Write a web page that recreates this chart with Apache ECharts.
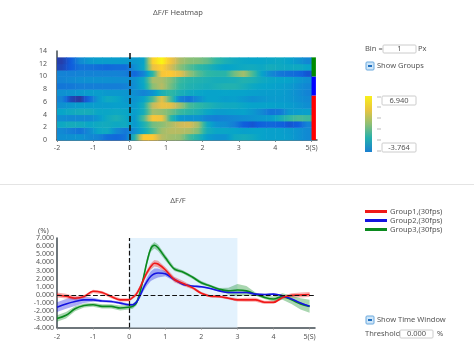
<!DOCTYPE html>
<html>
<head>
<meta charset="utf-8">
<style>html,body{margin:0;padding:0;background:#fff}#chart{width:474px;height:362px}</style>
<script src="https://cdn.jsdelivr.net/npm/echarts@6/dist/echarts.min.js"></script>
</head>
<body>
<div id="chart"></div>
<script>
// heatmap columns start times (s), each column is 0.25 wide, rows bottom to top
const heatColumns = [-2,-1.75,-1.5,-1.25,-1,-0.75,-0.5,-0.25,0,0.25,0.5,0.75,1,1.25,1.5,1.75,2,2.25,2.5,2.75,3,3.25,3.5,3.75,4,4.25,4.5,4.75];
const row0 = [-0.6,-0.5,-0.4,-0.8,-1,-1.8,-2,-1.6,1.2,5.6,5.6,3.8,3.4,3.2,2,1.2,0,-0.4,-0.4,0.6,0.8,0.6,0.2,0.1,0.1,0,-0.4,-0.8];
const row1 = [-0.8,-1.2,-1.6,-0.8,0.4,0.6,-0.8,-1.4,-0.6,0.6,2,3.4,3.8,3.8,3.6,2.8,0.8,0.4,0.4,0.3,0.1,0.2,0.2,0.1,0.1,-0.1,-0.4,-0.8];
const row2 = [0.5,0.8,0.7,0.4,0.6,0.7,0.5,0.6,-0.2,1,2.6,3,3.6,4.2,4.4,3.4,0.6,-0.4,-0.6,-1.2,-2.3,-2.6,-2.2,-2,-2.2,-2.6,-2.4,-1];
const row3 = [-0.6,-0.8,-0.8,-0.8,-0.2,0.6,1,0.5,-0.2,2,5.4,5.2,1.5,-0.2,-0.4,-0.4,-1,-1.2,-1,-0.8,-0.6,-0.4,-0.2,0,0.8,1.6,2,1.8];
const row4 = [0.3,0.6,0.8,0.8,0.4,0.4,0.5,0.4,0,0.8,3.4,3.2,2.6,1.8,1.4,1,0.4,0,0,0.1,0.2,-0.2,-0.8,-1.6,-1.4,-0.2,0,0.1];
const row5 = [-0.5,-0.2,0,0,0,0,0.1,0,-0.2,0.8,4,5,4.8,3.4,2,1.6,1.2,0.8,0.6,0.6,0.4,0.2,0.2,0.2,0.1,0,-0.3,-0.6];
const row6 = [-1,-3,-3.4,-2,-0.2,0.6,0.4,-0.2,-0.4,0.2,2,4.8,2,-1,-1.6,-0.6,0.2,0.2,0,0.1,-0.2,-0.5,-0.3,-0.1,-0.1,-0.2,-0.5,-0.8];
const row7 = [-0.5,-0.4,-0.2,0,0,-0.2,-0.2,-0.3,-0.6,-1,-0.4,1,1.6,1,0.6,0.4,0.2,0.2,0.3,0.2,0.2,0.1,0,0,0,-0.2,-0.6,-1];
const row8 = [-1.5,-1.4,-1.2,-1.2,-1.2,-1.2,-1.2,-1.1,-0.6,0.4,3,3.8,2.6,1.6,1.2,1,0.8,1,1.2,1.2,0.9,0.5,0.3,0.2,0.1,-0.1,-0.5,-0.9];
const row9 = [-1,-0.8,-0.6,-0.5,-0.5,-0.5,-0.6,-0.6,-0.5,0.5,3.5,3.6,2.8,1.8,1.4,1.2,1,0.8,0.8,0.9,1.2,1,0.6,0.4,0.3,0.2,-0.2,-0.6];
const row10 = [-1,-1.1,-1,-1,-1,-1,-1,-1.2,-2,-1,1.5,5.4,5.6,4.8,3.2,2.2,1.6,1.4,1.4,2.6,3.4,2,0.2,-0.8,-1.4,-1.7,-2,-2.6];
const row11 = [-3,-2.4,-1.6,-1.6,-1.8,-2,-1.8,-1.8,-0.6,0.4,5,5.8,4.4,3,2.2,1.6,1.2,0.6,0.2,0.4,0.6,0.7,0.5,0.8,0.6,0.5,0.6,0.3];
const row12 = [-3.2,-2.4,-0.8,-0.2,0,0,0,-0.1,-0.2,0.2,5.8,6.8,5.2,3.6,3,2.8,2.4,1.6,1,0.6,0.4,0.3,0.3,0.4,0.5,0.2,-0.3,-0.9];
const heatRows = [row0,row1,row2,row3,row4,row5,row6,row7,row8,row9,row10,row11,row12];
const heatMin = -3.764;
const heatMax = 6.94;
const parula = ['#352a87','#0f5cdd','#1481d6','#06a4ca','#2eb7a4','#87bf77','#d1bb59','#fec832','#f9fb0e'];
const groupBars = [[0,7,'#ff0000'],[7,10,'#0000ff'],[10,13,'#008a00']];

const times = [-2,-1.75,-1.5,-1.25,-1,-0.75,-0.5,-0.25,0,0.1,0.2,0.3,0.4,0.5,0.6,0.7,0.8,1,1.25,1.5,1.75,2,2.25,2.5,2.75,3,3.25,3.5,3.75,4,4.25,4.5,4.75,5];
const group1 = [0,-0.15,-0.4,-0.2,0.45,0.3,-0.2,-0.6,-0.6,-0.3,0.1,0.9,1.9,2.8,3.5,3.9,3.8,3.1,1.9,1.4,0.9,0.2,-0.15,-0.2,-0.4,-0.6,-0.6,-0.6,-0.9,-0.9,-0.3,-0.05,0,0.05];
const group2 = [-1.5,-1.1,-0.8,-0.6,-0.6,-0.75,-0.8,-1,-1.2,-1.2,-0.9,-0.1,0.9,1.7,2.3,2.6,2.7,2.6,1.9,1.3,1.1,1,0.8,0.5,0.3,0.3,0.3,0.1,0.05,0.1,-0.1,-0.5,-1,-1.4];
const group3 = [-2.9,-2.5,-1.7,-1.3,-1.2,-1.4,-1.4,-1.6,-1.5,-1.4,-1,0.3,2.2,4.2,5.7,6.1,5.8,4.6,3.2,2.8,2.2,1.5,1.1,0.7,0.5,0.6,0.5,0.1,-0.3,-0.5,-0.2,-0.6,-1.1,-1.4];
const err1 = [0.3,0.3,0.25,0.2,0.2,0.2,0.2,0.2,0.2,0.2,0.25,0.3,0.35,0.35,0.4,0.4,0.4,0.35,0.35,0.3,0.2,0.15,0.15,0.15,0.15,0.2,0.25,0.25,0.2,0.2,0.2,0.25,0.3,0.3];
const err2 = [0.6,0.6,0.55,0.4,0.25,0.15,0.15,0.15,0.15,0.15,0.2,0.3,0.4,0.5,0.6,0.65,0.55,0.3,0.2,0.15,0.1,0.1,0.1,0.1,0.1,0.1,0.1,0.1,0.1,0.1,0.1,0.1,0.1,0.1];
const err3 = [0.4,0.4,0.3,0.25,0.25,0.25,0.25,0.3,0.3,0.3,0.3,0.3,0.3,0.35,0.4,0.4,0.4,0.35,0.25,0.2,0.2,0.2,0.15,0.15,0.4,0.75,0.6,0.2,0.2,0.3,0.4,0.5,0.7,0.8];
const groupNames = ['Group1,(30fps)','Group2,(30fps)','Group3,(30fps)'];
const groupColors = ['#f01818','#1414e0','#0a8a1e'];
const xTicks = [-2,-1,0,1,2,3,4,5];
const timeWindow = [0,3];

const textColor = '#555';
const font = 'Noto Sans';

function heatColor(v) {
  return echarts.color.lerp((v - heatMin) / (heatMax - heatMin), parula);
}
// each cell fades into its neighbours, the reference has no hard column edges
function heatItem(params, api) {
  const k = api.value(3), r = heatRows[api.value(1)];
  const v = r[k];
  const prev = r[Math.max(k - 1, 0)], next = r[Math.min(k + 1, r.length - 1)];
  const a = api.coord([api.value(0), api.value(1)]);
  const b = api.coord([api.value(0) + 0.25, api.value(1) + 1]);
  return {
    type:'rect',
    shape:{x:a[0], y:b[1], width:b[0]-a[0]+0.5, height:a[1]-b[1]+0.5},
    style:{fill:new echarts.graphic.LinearGradient(0,0,1,0,[
      {offset:0, color:heatColor((prev+v)/2)},
      {offset:0.5, color:heatColor(v)},
      {offset:1, color:heatColor((v+next)/2)}
    ])}
  };
}
function barItem(params, api) {
  const a = api.coord([5, api.value(0)]);
  const b = api.coord([5.12, api.value(1)]);
  return {type:'rect', shape:{x:a[0], y:b[1], width:b[0]-a[0], height:a[1]-b[1]}, style:{fill:groupBars[params.dataIndex][2]}};
}
function bandSeries(mean, err, color) {
  return {
    type:'custom', xAxisIndex:1, yAxisIndex:1, z:3, silent:true, data:[[0]],
    renderItem(params, api) {
      const upper = times.map((t,i) => api.coord([t, mean[i]+err[i]]));
      const lower = times.map((t,i) => api.coord([t, mean[i]-err[i]])).reverse();
      return {type:'polygon', shape:{points:upper.concat(lower)}, style:{fill:color, opacity:0.35}};
    }
  };
}
function lineSeries(i, mean) {
  return {
    name:groupNames[i], type:'line', xAxisIndex:1, yAxisIndex:1, z:4, showSymbol:false, smooth:0.35,
    lineStyle:{color:groupColors[i], width:1.6}, itemStyle:{color:groupColors[i]},
    data:times.map((t,k) => [t, mean[k]])
  };
}
function box(x, y, w, h, txt) {
  return [
    {type:'rect', shape:{x:x, y:y, width:w, height:h, r:1}, style:{fill:'#fff', stroke:'#ccc', lineWidth:1}},
    {type:'text', x:x+w/2, y:y+h/2, style:{text:txt, fill:textColor, font:'7.5px "Noto Sans"', align:'center', verticalAlign:'middle'}}
  ];
}
function label(x, y, txt) {
  return {type:'text', x:x, y:y, style:{text:txt, fill:textColor, font:'7.5px "Noto Sans"', align:'left', verticalAlign:'middle'}};
}
function checkbox(x, y) {
  return [
    {type:'rect', shape:{x:x, y:y, width:8, height:8, r:1}, style:{fill:'#cfe6f8', stroke:'#6aa9de', lineWidth:1}},
    {type:'rect', shape:{x:x+2, y:y+3, width:4, height:2}, style:{fill:'#1f6fc0'}}
  ];
}

const heatData = [];
heatRows.forEach((r, y) => r.forEach((v, k) => heatData.push([heatColumns[k], y, v, k])));

const chart = echarts.init(document.getElementById('chart'));
const axisLine = {show:true, onZero:false, lineStyle:{color:'#3f4a50', width:1.5}};
const axisLabel = {color:textColor, fontSize:7, fontFamily:font};
function xAxis(gridIndex, margin) {
  return {
    type:'value', gridIndex, min:-2, max:5.15, axisLine, splitLine:{show:false},
    axisTick:{show:true, length:2, customValues:xTicks, lineStyle:{color:'#888'}},
    axisLabel:{...axisLabel, margin, customValues:xTicks, formatter:v => v === 5 ? '5(S)' : String(v)}
  };
}
chart.setOption({
  animation:false,
  textStyle:{fontFamily:font},
  title:[
    {text:'ΔF/F Heatmap', left:173, top:4, textAlign:'center', textStyle:{color:textColor, fontSize:7.5, fontWeight:'normal', fontFamily:font}},
    {text:'ΔF/F', left:173, top:192, textAlign:'center', textStyle:{color:textColor, fontSize:7.5, fontWeight:'normal', fontFamily:font}}
  ],
  grid:[
    {left:57, top:51, width:260, height:89},
    {left:57, top:238, width:258, height:89.5}
  ],
  xAxis:[xAxis(0, 4), xAxis(1, 6)],
  yAxis:[
    {type:'value', gridIndex:0, min:0, max:14, interval:2, axisLine, splitLine:{show:false},
     axisTick:{show:false}, axisLabel:{...axisLabel, margin:10}},
    {type:'value', gridIndex:1, min:-4, max:7, interval:1, axisLine, splitLine:{show:false},
     axisTick:{show:false}, axisLabel:{...axisLabel, margin:3, formatter:v => v.toFixed(3)}}
  ],
  legend:{
    orient:'vertical', left:360, top:202, itemWidth:22, itemHeight:3, itemGap:0,
    data:groupNames, icon:'rect',
    textStyle:{color:textColor, fontSize:7.5, fontFamily:font, lineHeight:9, padding:[0,0,0,-2]}
  },
  series:[
    {type:'custom', xAxisIndex:0, yAxisIndex:0, data:heatData, encode:{x:0, y:1}, renderItem:heatItem, z:2, silent:true},
    {type:'custom', xAxisIndex:0, yAxisIndex:0, data:groupBars.map(g => [g[0], g[1]]), encode:{y:[0,1]}, renderItem:barItem, z:2, silent:true,
     markLine:{silent:true, symbol:'none', label:{show:false}, lineStyle:{color:'#111', type:'dashed', width:1.5}, data:[{xAxis:0}]}},
    bandSeries(group1, err1, groupColors[0]),
    bandSeries(group2, err2, groupColors[1]),
    bandSeries(group3, err3, groupColors[2]),
    {...lineSeries(2, group3),
     markArea:{silent:true, itemStyle:{color:'#e3f2fd'}, data:[[{xAxis:timeWindow[0], yAxis:-4},{xAxis:timeWindow[1], yAxis:7}]]}},
    lineSeries(1, group2),
    {...lineSeries(0, group1),
     markLine:{silent:true, symbol:'none', label:{show:false}, z:6, lineStyle:{color:'#111', type:'dashed', width:1.2},
       data:[{xAxis:0},{yAxis:0}]}}
  ],
  graphic:[
    {type:'line', shape:{x1:0, y1:184.5, x2:474, y2:184.5}, style:{stroke:'#e4e4e4', lineWidth:1}},
    label(38, 231, '(%)'),
    label(365, 49, 'Bin ='),
    ...box(383, 45, 33, 8, '1'),
    label(418, 49, 'Px'),
    ...checkbox(366, 62),
    label(377, 66, 'Show Groups'),
    {type:'rect', shape:{x:365, y:96, width:7, height:56},
     style:{fill:new echarts.graphic.LinearGradient(0,0,0,1,[
       {offset:0,color:'#f9f01a'},{offset:0.25,color:'#e8c440'},{offset:0.5,color:'#8fbf75'},
       {offset:0.75,color:'#25b0ac'},{offset:1,color:'#1a7fd0'}])}},
    ...[97,107,118,129,140,151].map(y => ({type:'line', shape:{x1:377, y1:y, x2:381, y2:y}, style:{stroke:'#bbb', lineWidth:1}})),
    ...box(382, 96, 34, 9, '6.940'),
    ...box(382, 143, 34, 9, '-3.764'),
    ...checkbox(366, 316),
    label(377, 320, 'Show Time Window'),
    label(365, 334, 'Threshold'),
    ...box(400, 330, 33, 8, '0.000'),
    label(437, 334, '%')
  ]
});
</script>
</body>
</html>
